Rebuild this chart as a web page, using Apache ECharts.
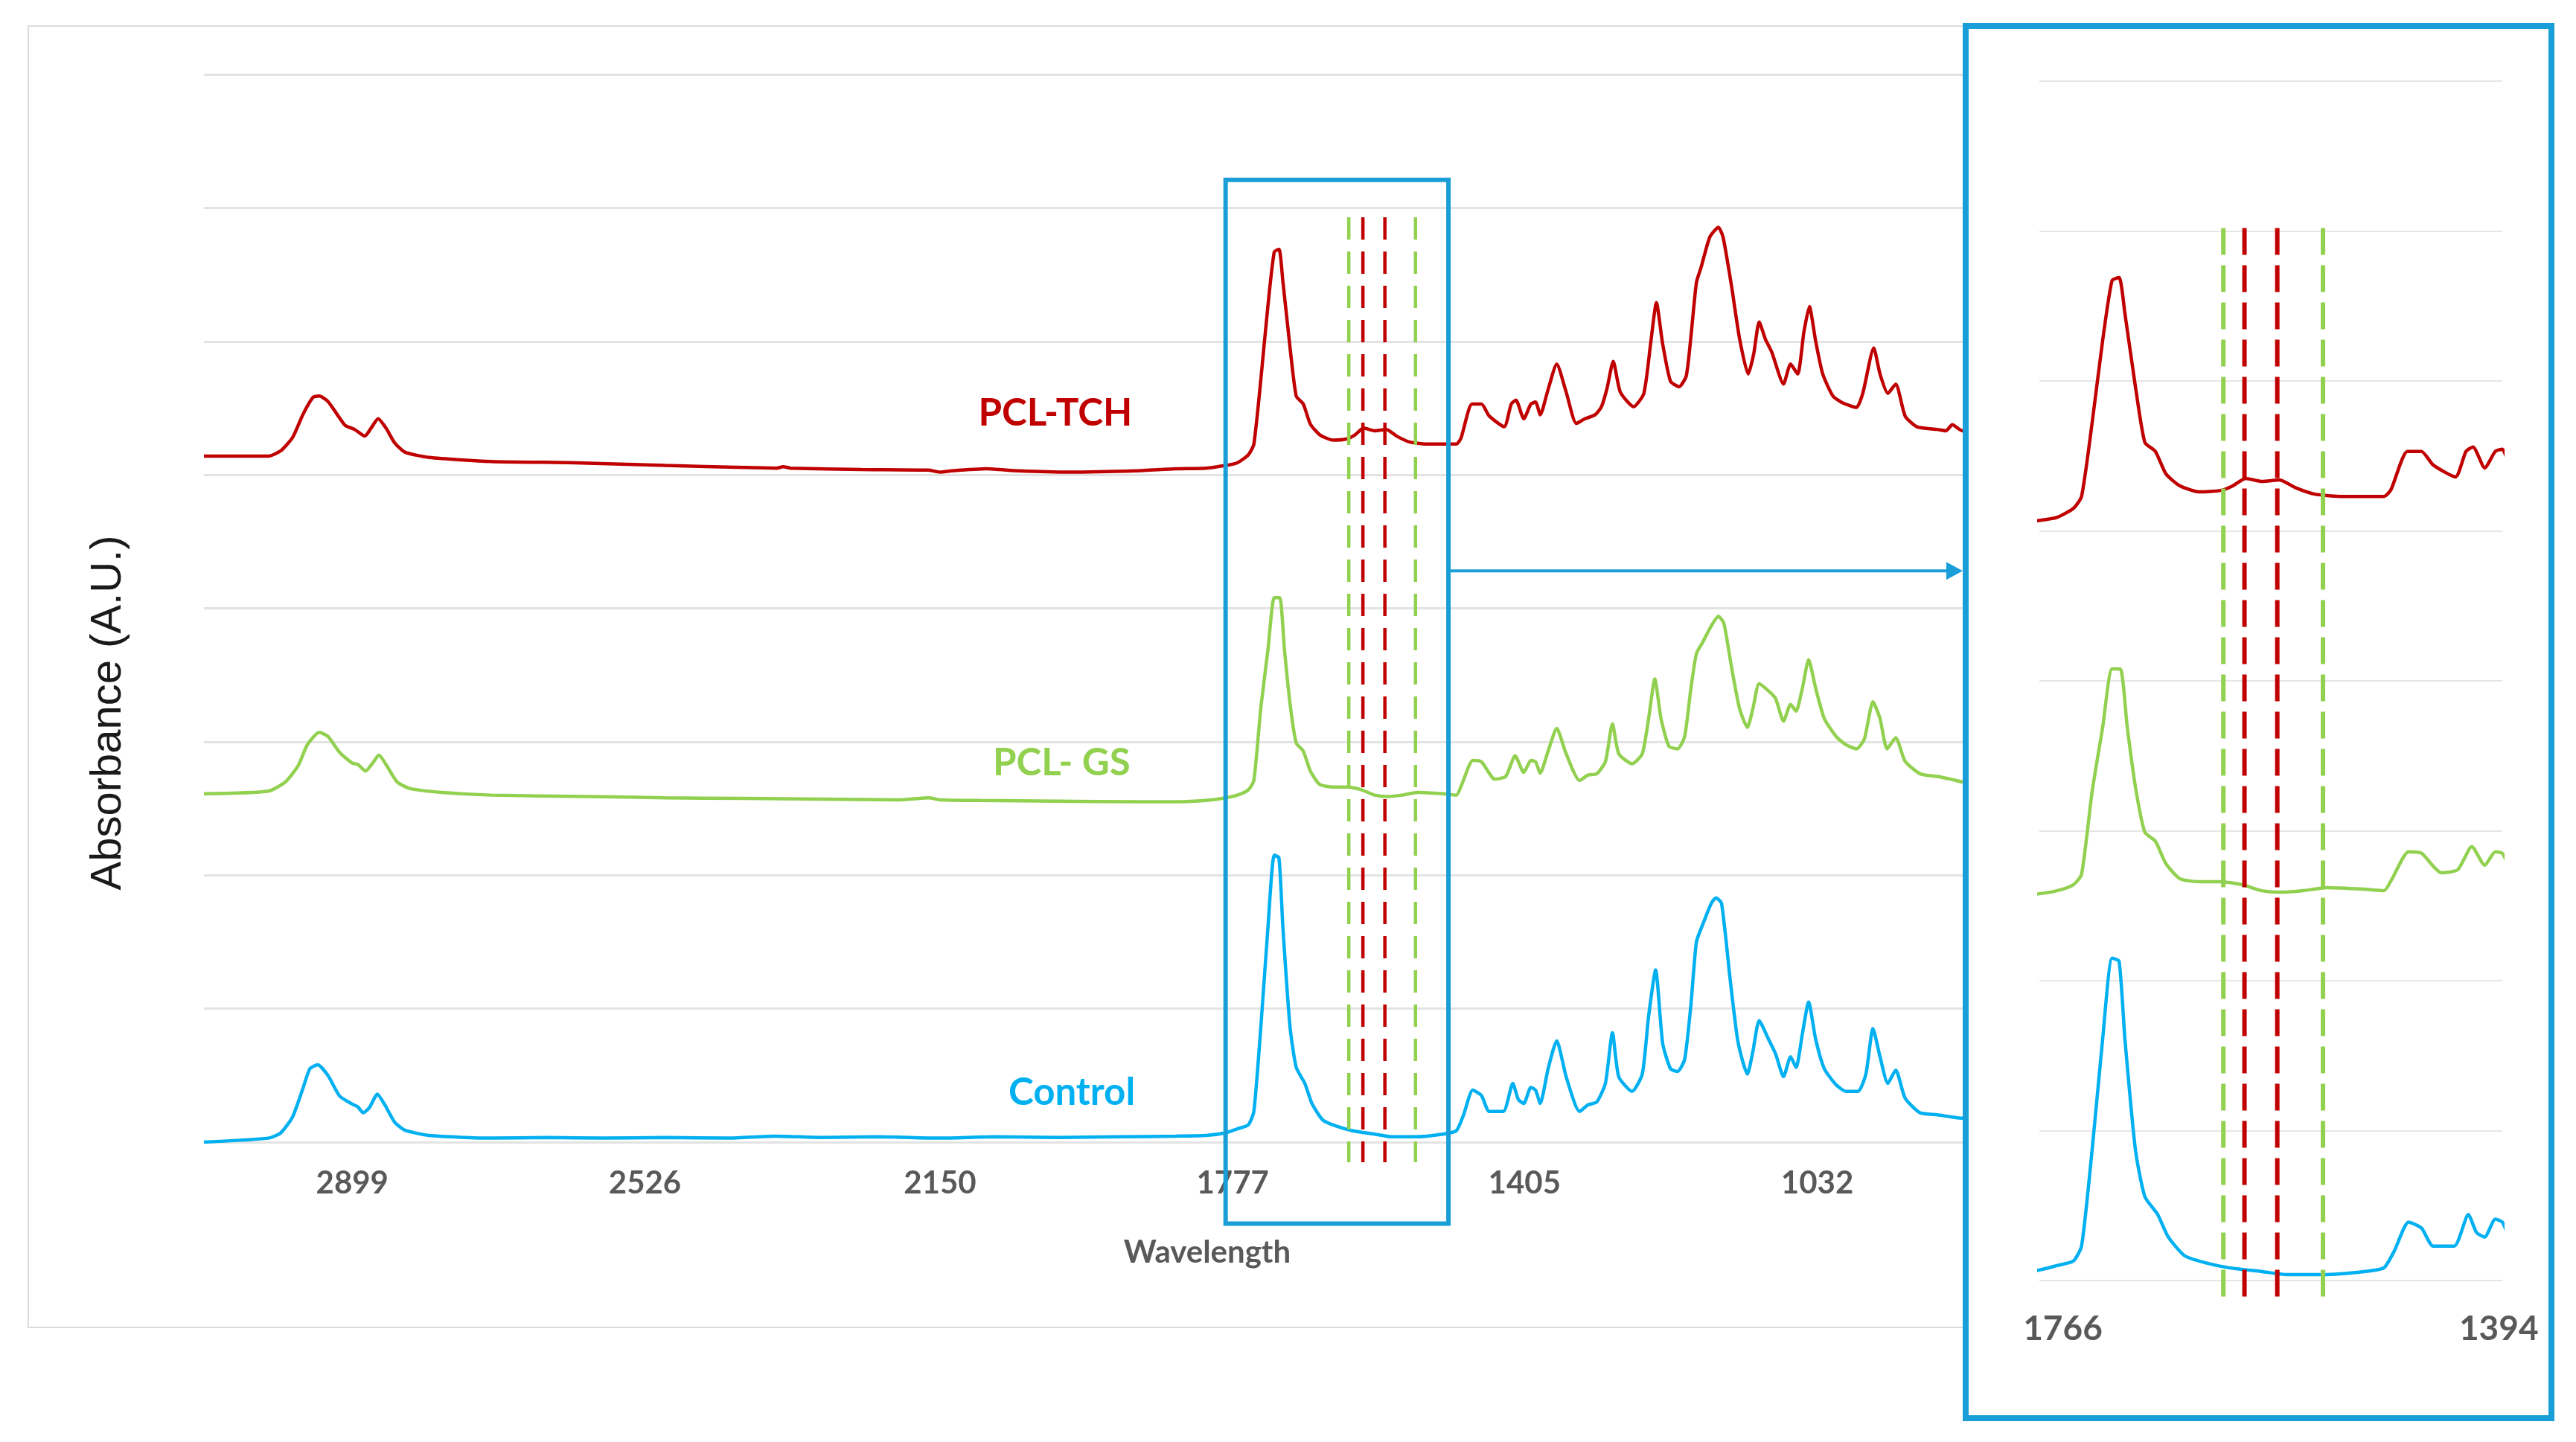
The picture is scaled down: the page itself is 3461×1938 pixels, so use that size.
<!DOCTYPE html>
<html>
<head>
<meta charset="utf-8">
<script src="https://cdn.jsdelivr.net/npm/echarts@6/dist/echarts.min.js"></script>
<style>
  html, body { margin: 0; padding: 0; background: #fff; }
  #chart { width: 3461px; height: 1938px; }
</style>
</head>
<body>
<div id="chart"></div>
<script>
// --- spectra: [wavenumber, offset absorbance] ---
const pclTch = [
  [3088, 5.14], [3006, 5.14], [2990, 5.18], [2975, 5.28], [2962, 5.45], [2949, 5.58], [2941, 5.59],
  [2930, 5.55], [2918, 5.45], [2908, 5.37], [2896, 5.34], [2883, 5.29], [2875, 5.35], [2866, 5.42],
  [2856, 5.35], [2845, 5.24], [2832, 5.17], [2801, 5.13], [2722, 5.10], [2615, 5.09], [2500, 5.07],
  [2400, 5.055], [2358, 5.05], [2350, 5.06], [2340, 5.05], [2250, 5.04], [2165, 5.035], [2150, 5.02],
  [2135, 5.03], [2091, 5.045], [2050, 5.03], [1986, 5.02], [1900, 5.03], [1850, 5.045], [1811, 5.05],
  [1786, 5.07], [1771, 5.09], [1757, 5.15], [1750, 5.23], [1741, 5.72], [1732, 6.27], [1724, 6.67],
  [1718, 6.69], [1713, 6.45], [1704, 5.96], [1696, 5.59], [1687, 5.53], [1678, 5.38], [1666, 5.30],
  [1649, 5.26], [1631, 5.27], [1621, 5.30], [1610, 5.35], [1596, 5.33], [1581, 5.34], [1568, 5.29],
  [1551, 5.245], [1527, 5.23], [1492, 5.23], [1486, 5.275], [1472, 5.53], [1460, 5.53], [1450, 5.44],
  [1431, 5.36], [1422, 5.53], [1416, 5.56], [1406, 5.42], [1397, 5.53], [1391, 5.545], [1385, 5.45],
  [1375, 5.64], [1364, 5.83], [1352, 5.62], [1339, 5.385], [1328, 5.42], [1315, 5.45], [1307, 5.51],
  [1300, 5.645], [1292, 5.85], [1283, 5.62], [1266, 5.51], [1253, 5.61], [1244, 6.0], [1237, 6.29],
  [1229, 5.98], [1219, 5.70], [1208, 5.66], [1199, 5.74], [1193, 6.035], [1186, 6.44], [1180, 6.555],
  [1169, 6.78], [1158, 6.855], [1152, 6.78], [1141, 6.405], [1131, 6.02], [1120, 5.755], [1113, 5.905],
  [1106, 6.145], [1098, 6.015], [1090, 5.92], [1075, 5.68], [1066, 5.83], [1057, 5.755], [1049, 6.07],
  [1042, 6.26], [1034, 6.0], [1025, 5.755], [1012, 5.59], [1000, 5.54], [982, 5.505], [974, 5.61],
  [960, 5.95], [952, 5.755], [942, 5.61], [932, 5.68], [920, 5.44], [905, 5.36], [879, 5.34],
  [868, 5.33], [860, 5.375], [847, 5.33], [840, 5.33]
];

const pclGs = [
  [3088, 2.61], [3006, 2.63], [2984, 2.70], [2968, 2.82], [2956, 2.98], [2941, 3.07], [2930, 3.04],
  [2915, 2.92], [2899, 2.84], [2892, 2.83], [2882, 2.78], [2873, 2.84], [2865, 2.90], [2856, 2.83],
  [2842, 2.70], [2826, 2.65], [2785, 2.62], [2722, 2.60], [2600, 2.59], [2500, 2.58], [2400, 2.575],
  [2300, 2.57], [2200, 2.565], [2164, 2.58], [2150, 2.565], [2100, 2.56], [2000, 2.555], [1900, 2.55],
  [1850, 2.55], [1811, 2.56], [1786, 2.58], [1771, 2.60], [1757, 2.64], [1750, 2.71], [1741, 3.26],
  [1732, 3.69], [1724, 4.08], [1717, 4.08], [1711, 3.69], [1704, 3.29], [1696, 2.99], [1687, 2.93],
  [1678, 2.78], [1666, 2.68], [1649, 2.66], [1631, 2.66], [1613, 2.64], [1596, 2.60], [1579, 2.59],
  [1561, 2.60], [1541, 2.62], [1509, 2.61], [1492, 2.60], [1485, 2.68], [1471, 2.86], [1460, 2.85],
  [1443, 2.72], [1429, 2.74], [1417, 2.895], [1406, 2.77], [1397, 2.86], [1391, 2.85], [1385, 2.765],
  [1375, 2.93], [1364, 3.10], [1352, 2.91], [1335, 2.71], [1324, 2.75], [1313, 2.76], [1302, 2.85],
  [1293, 3.135], [1285, 2.91], [1268, 2.835], [1255, 2.91], [1247, 3.17], [1239, 3.47], [1231, 3.17],
  [1221, 2.966], [1210, 2.947], [1201, 3.04], [1193, 3.40], [1186, 3.66], [1178, 3.746], [1167, 3.868],
  [1158, 3.94], [1151, 3.887], [1141, 3.55], [1131, 3.248], [1121, 3.107], [1114, 3.248], [1106, 3.436],
  [1094, 3.38], [1085, 3.323], [1075, 3.154], [1066, 3.28], [1059, 3.229], [1051, 3.40], [1043, 3.615],
  [1034, 3.40], [1023, 3.173], [1008, 3.04], [995, 2.976], [982, 2.947], [972, 3.02], [961, 3.30],
  [952, 3.173], [943, 2.947], [932, 3.03], [920, 2.853], [901, 2.76], [879, 2.74], [862, 2.72],
  [847, 2.70], [840, 2.70]
];

const control = [
  [3088, 0.00], [3006, 0.03], [2990, 0.07], [2975, 0.19], [2962, 0.40], [2953, 0.55], [2943, 0.58],
  [2930, 0.50], [2915, 0.345], [2899, 0.285], [2892, 0.265], [2885, 0.22], [2877, 0.26], [2867, 0.36],
  [2858, 0.285], [2845, 0.15], [2832, 0.09], [2801, 0.05], [2722, 0.03], [2650, 0.035], [2580, 0.03],
  [2500, 0.035], [2420, 0.03], [2360, 0.045], [2300, 0.035], [2230, 0.04], [2150, 0.03], [2080, 0.04],
  [2000, 0.035], [1920, 0.04], [1850, 0.045], [1811, 0.05], [1786, 0.07], [1771, 0.10], [1757, 0.13],
  [1750, 0.23], [1741, 0.87], [1732, 1.61], [1724, 2.15], [1718, 2.13], [1713, 1.61], [1704, 0.87],
  [1696, 0.56], [1685, 0.44], [1676, 0.29], [1662, 0.165], [1645, 0.12], [1624, 0.085], [1596, 0.06],
  [1575, 0.04], [1544, 0.04], [1509, 0.06], [1492, 0.085], [1483, 0.20], [1471, 0.39], [1460, 0.35],
  [1450, 0.23], [1432, 0.23], [1420, 0.44], [1413, 0.32], [1406, 0.29], [1397, 0.41], [1391, 0.39],
  [1385, 0.29], [1375, 0.55], [1364, 0.76], [1352, 0.49], [1335, 0.23], [1324, 0.28], [1313, 0.30],
  [1302, 0.44], [1293, 0.82], [1285, 0.49], [1268, 0.38], [1255, 0.51], [1247, 0.94], [1238, 1.29],
  [1229, 0.74], [1219, 0.55], [1210, 0.53], [1201, 0.62], [1193, 1.03], [1186, 1.50], [1178, 1.63],
  [1167, 1.79], [1161, 1.83], [1154, 1.79], [1143, 1.22], [1133, 0.75], [1121, 0.51], [1114, 0.68],
  [1106, 0.91], [1094, 0.77], [1085, 0.66], [1075, 0.49], [1066, 0.64], [1059, 0.56], [1051, 0.81],
  [1043, 1.05], [1034, 0.77], [1023, 0.55], [1008, 0.43], [995, 0.38], [980, 0.38], [970, 0.51],
  [961, 0.85], [952, 0.64], [942, 0.44], [932, 0.54], [920, 0.33], [901, 0.22], [879, 0.205],
  [862, 0.19], [847, 0.18], [840, 0.18]
];

const seriesNames = ['PCL-TCH', 'PCL- GS', 'Control'];
const nameAnchors = [[2003, 5.46], [1995, 2.84], [1982, 0.37]];

const mainTicks = [2899, 2526, 2150, 1777, 1405, 1032];
const insetTicks = [1766, 1394];

// marked bands (dashed lines)
const greenBands = [1629, 1544];
const redBands = [1611, 1583];

// --- styles / annotation placement ---
const colors = ['#c00000', '#92d050', '#00b0f0'];
const boxBlue = '#1a9ed8';
const zoomBox = [1786, 7.21, 1502, -0.61]; // x0, yTop, x1, yBottom in main axis units
const arrowLevel = 4.28;
const insetFrame = { x: 2641, y: 35, width: 787, height: 1871 };

const chart = echarts.init(document.getElementById('chart'));

const tickLabel = (size, margin, ticks) => ({
  customValues: ticks,
  formatter: v => String(v),
  margin: margin,
  color: '#595959',
  fontSize: size,
  fontWeight: 'bold',
  fontFamily: 'Lato'
});

const series = [];
[pclTch, pclGs, control].forEach((d, i) => {
  [0, 1].forEach(g => {
    series.push({
      type: 'line', xAxisIndex: g, yAxisIndex: g, data: d,
      showSymbol: false, smooth: 0.2, silent: true, z: 3,
      lineStyle: { color: colors[i], width: 4.5 }
    });
  });
});

// dashed band markers, drawn in both grids
function bandSeries(g, top, bottom, width, dash) {
  return {
    type: 'custom', xAxisIndex: g, yAxisIndex: g, clip: false, silent: true, z: 5,
    data: greenBands.map(v => [v, 0, 0]).concat(redBands.map(v => [v, 0, 1])),
    renderItem: (params, api) => {
      const p1 = api.coord([api.value(0), top]);
      const p2 = api.coord([api.value(0), bottom]);
      return {
        type: 'line',
        shape: { x1: p1[0], y1: p1[1], x2: p2[0], y2: p2[1] },
        style: { stroke: api.value(2) ? '#c00000' : '#92d050', lineWidth: width, lineDash: dash }
      };
    }
  };
}
series.push(bandSeries(0, 6.93, -0.15, 4.5, [30, 16]));
series.push(bandSeries(1, 7.02, -0.14, 6, [36, 14]));

// zoom rectangle in the main plot
series.push({
  type: 'custom', xAxisIndex: 0, yAxisIndex: 0, clip: false, silent: true, z: 6,
  data: [zoomBox],
  renderItem: (params, api) => {
    const a = api.coord([api.value(0), api.value(1)]);
    const b = api.coord([api.value(2), api.value(3)]);
    return {
      type: 'rect',
      shape: { x: Math.min(a[0], b[0]), y: Math.min(a[1], b[1]), width: Math.abs(b[0] - a[0]), height: Math.abs(b[1] - a[1]) },
      style: { fill: 'none', stroke: boxBlue, lineWidth: 6 }
    };
  }
});

// series names next to each trace
series.push({
  type: 'custom', xAxisIndex: 0, yAxisIndex: 0, clip: false, silent: true, z: 6,
  data: nameAnchors.map((p, i) => [p[0], p[1], i]),
  renderItem: (params, api) => {
    const p = api.coord([api.value(0), api.value(1)]);
    const i = api.value(2);
    return {
      type: 'text', x: p[0], y: p[1],
      style: {
        text: seriesNames[i], fill: colors[i], fontSize: 51, fontWeight: 'bold',
        fontFamily: 'Lato', align: 'center', verticalAlign: 'middle'
      }
    };
  }
});

chart.setOption({
  animation: false,
  backgroundColor: '#fff',
  grid: [
    { left: 274, top: 100, width: 2370, height: 1435 },
    { left: 2740, top: 109, width: 622, height: 1612 }
  ],
  xAxis: [
    {
      type: 'value', gridIndex: 0, inverse: true, min: 840, max: 3088,
      axisLine: { show: false }, axisTick: { show: false }, splitLine: { show: false },
      axisLabel: tickLabel(42, 34, mainTicks)
    },
    {
      type: 'value', gridIndex: 1, inverse: true, min: 1391, max: 1786,
      axisLine: { show: false }, axisTick: { show: false }, splitLine: { show: false },
      axisLabel: tickLabel(46, 42, insetTicks)
    }
  ],
  yAxis: [
    {
      type: 'value', gridIndex: 0, min: 0, max: 8, interval: 1,
      axisLine: { show: false }, axisTick: { show: false }, axisLabel: { show: false },
      splitLine: { lineStyle: { color: '#e3e3e3', width: 3 } }
    },
    {
      type: 'value', gridIndex: 1, min: 0, max: 8, interval: 1,
      axisLine: { show: false }, axisTick: { show: false }, axisLabel: { show: false },
      splitLine: { lineStyle: { color: '#e6e6e6', width: 2 } }
    }
  ],
  series: series
});

// frames, arrow and axis titles
const from = chart.convertToPixel({ gridIndex: 0 }, [zoomBox[2], arrowLevel]);
const tipX = insetFrame.x - 4;
chart.setOption({
  graphic: [
    {
      type: 'rect', z: 0, silent: true,
      shape: { x: 38, y: 35, width: insetFrame.x - 38, height: 1749 },
      style: { fill: 'none', stroke: '#dcdcdc', lineWidth: 2 }
    },
    {
      type: 'rect', z: 100, silent: true,
      shape: insetFrame,
      style: { fill: 'none', stroke: boxBlue, lineWidth: 8 }
    },
    {
      type: 'line', z: 100, silent: true,
      shape: { x1: from[0] + 3, y1: from[1], x2: tipX - 18, y2: from[1] },
      style: { stroke: boxBlue, lineWidth: 4 }
    },
    {
      type: 'polygon', z: 100, silent: true,
      shape: { points: [[tipX, from[1]], [tipX - 22, from[1] - 12], [tipX - 22, from[1] + 12]] },
      style: { fill: boxBlue }
    },
    {
      type: 'text', z: 100, silent: true, x: 1622, y: 1683,
      style: {
        text: 'Wavelength', fill: '#595959', fontSize: 42, fontWeight: 'bold',
        fontFamily: 'Lato', align: 'center', verticalAlign: 'middle'
      }
    },
    {
      type: 'text', z: 100, silent: true, x: 146, y: 958, rotation: Math.PI / 2,
      style: {
        text: 'Absorbance (A.U.)', fill: '#1a1a1a', fontSize: 58,
        fontFamily: 'Liberation Sans', align: 'center', verticalAlign: 'middle'
      }
    }
  ]
});

window.addEventListener('resize', () => chart.resize());
</script>
</body>
</html>
